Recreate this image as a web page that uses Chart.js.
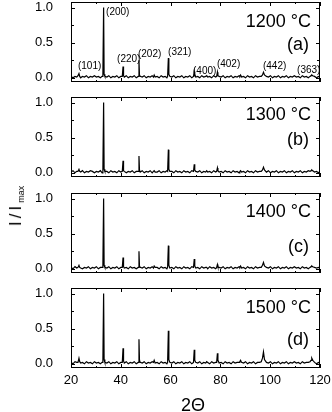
<!DOCTYPE html>
<html><head><meta charset="utf-8">
<script src="https://cdn.jsdelivr.net/npm/chart.js@4/dist/chart.umd.min.js"></script>
<style>
html,body{margin:0;padding:0;background:#fff;}
#wrap{position:relative;width:332px;height:412px;overflow:hidden;font-family:"Liberation Sans",Arial,sans-serif;color:#000;}
canvas{position:absolute;left:0;}
#xt{position:absolute;left:193px;top:405px;transform:translate(-50%,-50%);font-size:18px;white-space:nowrap;}
#yt{position:absolute;left:16px;top:206px;transform:translate(-50%,-50%) rotate(-90deg);font-size:17px;white-space:nowrap;letter-spacing:3px;}
#yt sub{font-size:9px;letter-spacing:0;vertical-align:-3px;}
</style></head>
<body><div id="wrap">
<canvas id="c0" width="332" height="84" style="top:0px"></canvas>
<canvas id="c1" width="332" height="84" style="top:95px"></canvas>
<canvas id="c2" width="332" height="84" style="top:191px"></canvas>
<canvas id="c3" width="332" height="126" style="top:286px"></canvas>
<div id="xt">2&Theta;</div>
<div id="yt">I/I<sub>max</sub></div>
</div>
<script>
// 2-theta positions (shared by all four patterns)
const twoTheta = [
 20.0,20.8,21.6,22.3,22.8,23.2,23.5,23.9,
 24.6,25.4,26.2,27.0,27.8,28.6,29.4,30.2,31.0,31.8,32.5,32.8,33.1,33.3,33.6,
 34.4,35.2,36.0,36.8,37.6,38.4,39.2,40.0,40.6,40.9,41.1,41.4,
 42.2,43.0,43.8,44.6,45.4,46.2,47.0,47.3,47.5,47.8,
 48.6,49.4,50.2,51.0,51.8,52.6,53.1,53.4,53.8,
 54.6,55.4,56.2,57.0,57.8,58.5,58.8,59.1,59.3,59.7,
 60.5,61.3,62.1,62.9,63.7,64.5,65.3,66.1,66.9,67.7,68.5,69.2,69.5,69.7,70.1,
 70.9,71.7,72.5,73.3,74.1,74.5,74.9,75.7,76.5,77.3,78.1,78.5,78.8,79.0,79.5,
 80.3,81.1,81.9,82.7,83.5,84.3,85.1,85.9,86.7,87.5,87.8,88.1,88.5,
 89.3,90.1,90.9,91.7,92.5,93.3,94.1,94.9,95.7,96.4,96.9,97.3,97.7,98.5,
 99.3,100.1,100.9,101.7,102.5,103.3,104.1,104.9,105.7,106.5,107.3,108.1,108.9,109.7,
 110.5,111.3,112.1,112.9,113.7,114.5,115.3,116.0,116.4,116.7,117.1,117.8,118.6,119.4,120.0
];
const i1200 = [
 0.02,0.00,0.02,0.01,0.03,0.06,0.02,0.00,
 0.02,0.01,0.03,0.00,0.02,0.01,0.03,0.01,0.02,0.00,0.02,0.03,1.0,0.05,0.02,
 0.01,0.03,0.00,0.02,0.01,0.03,0.00,0.02,0.02,0.16,0.03,0.01,
 0.03,0.00,0.02,0.01,0.03,0.00,0.02,0.25,0.04,0.02,
 0.01,0.03,0.00,0.02,0.01,0.03,0.01,0.04,0.01,
 0.02,0.00,0.03,0.01,0.02,0.00,0.02,0.28,0.05,0.02,
 0.01,0.03,0.00,0.02,0.01,0.03,0.00,0.02,0.01,0.03,0.00,0.02,0.09,0.03,0.01,
 0.02,0.00,0.03,0.01,0.02,0.03,0.01,0.02,0.00,0.03,0.01,0.02,0.08,0.03,0.02,
 0.01,0.03,0.00,0.02,0.01,0.03,0.00,0.02,0.01,0.03,0.02,0.04,0.01,
 0.02,0.00,0.03,0.01,0.02,0.00,0.03,0.01,0.02,0.02,0.04,0.08,0.04,0.02,
 0.01,0.03,0.00,0.02,0.01,0.03,0.00,0.02,0.01,0.03,0.00,0.02,0.01,0.03,
 0.01,0.02,0.00,0.03,0.01,0.02,0.00,0.02,0.03,0.04,0.03,0.02,0.00,0.02,0.01
];
const i1300 = [
 0.01,0.03,0.00,0.02,0.02,0.05,0.02,0.01,
 0.03,0.00,0.02,0.01,0.03,0.02,0.00,0.02,0.01,0.03,0.00,0.03,1.0,0.05,0.02,
 0.02,0.00,0.03,0.01,0.02,0.00,0.03,0.01,0.02,0.17,0.03,0.02,
 0.00,0.02,0.01,0.03,0.00,0.02,0.02,0.24,0.04,0.01,
 0.03,0.00,0.02,0.01,0.03,0.00,0.02,0.03,0.01,
 0.01,0.03,0.00,0.02,0.01,0.03,0.02,0.33,0.05,0.02,
 0.02,0.00,0.03,0.01,0.02,0.00,0.03,0.01,0.02,0.00,0.03,0.02,0.12,0.04,0.02,
 0.01,0.03,0.00,0.02,0.01,0.03,0.01,0.02,0.00,0.03,0.01,0.02,0.07,0.03,0.01,
 0.02,0.00,0.03,0.01,0.02,0.00,0.03,0.01,0.02,0.00,0.02,0.03,0.01,
 0.02,0.00,0.03,0.01,0.02,0.00,0.03,0.01,0.02,0.02,0.04,0.08,0.04,0.01,
 0.03,0.00,0.02,0.01,0.03,0.00,0.02,0.01,0.03,0.00,0.02,0.01,0.03,0.00,
 0.02,0.01,0.03,0.00,0.02,0.01,0.03,0.02,0.03,0.04,0.03,0.01,0.02,0.00,0.02
];
const i1400 = [
 0.02,0.00,0.03,0.01,0.02,0.05,0.02,0.01,
 0.00,0.02,0.01,0.03,0.00,0.02,0.01,0.03,0.00,0.02,0.02,0.03,1.0,0.05,0.02,
 0.01,0.03,0.00,0.02,0.01,0.03,0.00,0.02,0.02,0.16,0.03,0.01,
 0.02,0.00,0.03,0.01,0.02,0.00,0.02,0.25,0.04,0.02,
 0.01,0.03,0.00,0.02,0.01,0.03,0.01,0.04,0.02,
 0.02,0.00,0.03,0.01,0.02,0.00,0.02,0.33,0.05,0.01,
 0.02,0.00,0.03,0.01,0.02,0.00,0.03,0.01,0.02,0.00,0.03,0.02,0.14,0.04,0.01,
 0.02,0.00,0.03,0.01,0.02,0.02,0.00,0.03,0.01,0.02,0.00,0.02,0.06,0.03,0.02,
 0.01,0.03,0.00,0.02,0.01,0.03,0.00,0.02,0.01,0.03,0.02,0.04,0.01,
 0.02,0.00,0.03,0.01,0.02,0.00,0.03,0.01,0.02,0.02,0.05,0.09,0.04,0.02,
 0.01,0.03,0.00,0.02,0.01,0.03,0.00,0.02,0.01,0.03,0.00,0.02,0.01,0.03,
 0.01,0.02,0.00,0.03,0.01,0.02,0.00,0.02,0.03,0.04,0.03,0.02,0.01,0.02,0.01
];
const i1500 = [
 0.02,0.00,0.03,0.02,0.02,0.08,0.03,0.01,
 0.02,0.00,0.03,0.01,0.02,0.00,0.03,0.01,0.02,0.00,0.02,0.03,1.0,0.06,0.02,
 0.01,0.03,0.00,0.02,0.01,0.03,0.00,0.02,0.02,0.22,0.04,0.01,
 0.03,0.00,0.02,0.01,0.03,0.00,0.02,0.35,0.05,0.02,
 0.01,0.03,0.00,0.02,0.01,0.03,0.02,0.05,0.01,
 0.02,0.00,0.03,0.01,0.02,0.00,0.02,0.47,0.06,0.02,
 0.01,0.03,0.00,0.02,0.01,0.03,0.00,0.02,0.01,0.03,0.00,0.02,0.20,0.05,0.02,
 0.01,0.03,0.00,0.02,0.01,0.03,0.02,0.00,0.03,0.01,0.02,0.02,0.15,0.05,0.01,
 0.02,0.00,0.03,0.01,0.02,0.00,0.03,0.01,0.02,0.02,0.03,0.05,0.02,
 0.01,0.03,0.00,0.02,0.01,0.03,0.00,0.02,0.02,0.03,0.08,0.17,0.06,0.02,
 0.01,0.03,0.00,0.02,0.01,0.03,0.00,0.02,0.01,0.03,0.00,0.02,0.01,0.03,
 0.01,0.02,0.00,0.03,0.01,0.02,0.02,0.03,0.05,0.08,0.05,0.02,0.00,0.02,0.01
];
const temperatures = ["1200 \u00B0C","1300 \u00B0C","1400 \u00B0C","1500 \u00B0C"];
const panelLetters = ["(a)","(b)","(c)","(d)"];
const hklLabels = ["(101)","(200)","(220)","(202)","(321)","(400)","(402)","(442)","(363)"];
const hklX = [22.8,34.1,38.5,46.9,59.0,69.0,78.6,97.1,110.8];
const hklY = [0.17,0.94,0.26,0.33,0.36,0.10,0.19,0.17,0.11];
const xTickValues = [20,40,60,80,100,120];
const xMinorValues = [30,50,70,90,110];
const yTickValues = [0,0.5,1.0];
const yMinorValues = [0.25,0.75];

const FONT = '"Liberation Sans", Arial, sans-serif';
const series = [i1200,i1300,i1400,i1500];
const tempDy = [20,18,19,20];
const letterDy = [43,43,54,52];

const framePlugin = {
  id:'frame',
  afterDatasetsDraw(chart, args, o){
    const {ctx, chartArea:a} = chart;
    const x = chart.scales.x, y = chart.scales.y;
    ctx.save();
    ctx.strokeStyle='#000'; ctx.lineWidth=1;
    ctx.strokeRect(a.left+0.5, a.top+0.5, a.right-a.left-1, a.bottom-a.top-1);
    ctx.beginPath();
    const xt=(v,l)=>{const p=Math.round(x.getPixelForValue(v))+0.5; ctx.moveTo(p,a.bottom); ctx.lineTo(p,a.bottom-l); ctx.moveTo(p,a.top); ctx.lineTo(p,a.top+l);};
    const yt=(v,l)=>{const p=Math.round(y.getPixelForValue(v))+0.5; ctx.moveTo(a.left,p); ctx.lineTo(a.left+l,p); ctx.moveTo(a.right,p); ctx.lineTo(a.right-l,p);};
    xTickValues.forEach(v=>xt(v,4)); xMinorValues.forEach(v=>xt(v,2));
    yTickValues.forEach(v=>yt(v,4)); yMinorValues.forEach(v=>yt(v,3));
    ctx.stroke();
    ctx.fillStyle='#000';
    ctx.font='18px '+FONT; ctx.textAlign='right'; ctx.textBaseline='middle';
    ctx.fillText(temperatures[o.idx], 311, a.top+tempDy[o.idx]);
    ctx.fillText(panelLetters[o.idx], 309, a.top+letterDy[o.idx]);
    if(o.idx===0){
      ctx.font='10px '+FONT; ctx.textAlign='left';
      hklLabels.forEach((t,i)=>ctx.fillText(t, x.getPixelForValue(hklX[i]), y.getPixelForValue(hklY[i])));
    }
    ctx.restore();
  }
};

series.forEach((s,idx)=>{
  const last = idx===3;
  new Chart(document.getElementById('c'+idx), {
    type:'line',
    data:{datasets:[{data:twoTheta.map((t,i)=>({x:t,y:s[i]})), borderColor:'#000', borderWidth:1.2, pointRadius:0, tension:0, fill:false}]},
    options:{
      responsive:false, animation:false, events:[],
      layout:{padding:{top:2,right:12,left:0,bottom:last?0:2}},
      plugins:{legend:{display:false},tooltip:{enabled:false},frame:{idx}},
      scales:{
        x:{type:'linear',min:20,max:120,
          grid:{display:false,drawTicks:false},border:{display:false},
          afterBuildTicks:sc=>{sc.ticks=xTickValues.map(v=>({value:v}));},
          afterFit:sc=>{sc.height=last?44:0; sc.paddingLeft=0; sc.paddingRight=0;},
          ticks:{display:last,padding:5,maxRotation:0,autoSkip:false,color:'#000',font:{family:FONT,size:13},callback:v=>String(v)}},
        y:{min:-0.06,max:1.08,
          grid:{display:false,drawTicks:false},border:{display:false},
          afterBuildTicks:sc=>{sc.ticks=yTickValues.map(v=>({value:v}));},
          afterFit:sc=>{sc.width=71; sc.paddingTop=0; sc.paddingBottom=0;},
          ticks:{padding:18,color:'#000',font:{family:FONT,size:13},callback:v=>Number(v).toFixed(1)}}
      }
    },
    plugins:[framePlugin]
  });
});
</script>
</body></html>
